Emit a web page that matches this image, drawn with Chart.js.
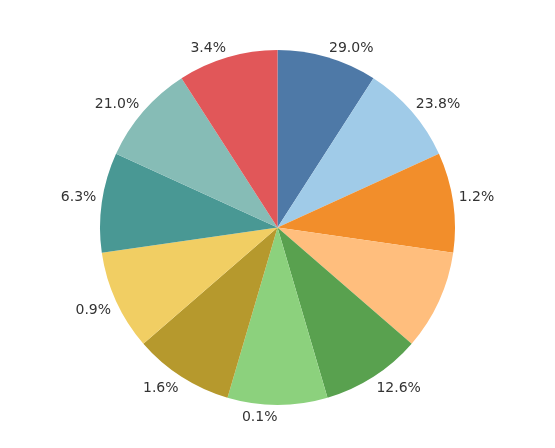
<!DOCTYPE html>
<html>
<head>
<meta charset="utf-8">
<script src="https://cdn.jsdelivr.net/npm/chart.js@4"></script>
<style>
html,body{margin:0;padding:0;background:#fff;}
#wrap{width:555px;height:448px;position:relative;}
</style>
</head>
<body>
<div id="wrap"><canvas id="c" width="555" height="448"></canvas></div>
<script>
const categories = ["A","B","C","D","E","F","G","H","I","J","K"];
const sliceValues = [1,1,1,1,1,1,1,1,1,1,1];
const sliceLabels = ["29.0%","23.8%","1.2%","","12.6%","0.1%","1.6%","0.9%","6.3%","21.0%","3.4%"];
const sliceColors = ["#4e79a7","#a0cbe8","#f28e2b","#ffbe7d","#59a14f","#8cd17d","#b6992d","#f1ce63","#499894","#86bcb6","#e15759"];

const labelPlugin = {
  id: 'outLabels',
  afterDatasetsDraw(chart) {
    const ctx = chart.ctx;
    const meta = chart.getDatasetMeta(0);
    ctx.save();
    ctx.font = '14px "DejaVu Sans", sans-serif';
    ctx.fillStyle = '#333333';
    meta.data.forEach((arc, i) => {
      const txt = sliceLabels[i];
      if (!txt) return;
      const p = arc.getProps(['x','y','startAngle','endAngle','outerRadius'], true);
      const mid = (p.startAngle + p.endAngle) / 2;
      const r = p.outerRadius + 5.5;
      const cx = Math.cos(mid), cy = Math.sin(mid);
      const x = p.x + cx * r;
      const y = p.y + cy * r;
      ctx.textAlign = cx > 0.001 ? 'left' : 'right';
      ctx.textBaseline = cy < 0 ? 'alphabetic' : 'top';
      ctx.fillText(txt, x, y);
    });
    ctx.restore();
  }
};

new Chart(document.getElementById('c'), {
  type: 'pie',
  data: {
    labels: categories,
    datasets: [{
      data: sliceValues,
      backgroundColor: sliceColors,
      borderWidth: 0
    }]
  },
  options: {
    responsive: false,
    animation: false,
    layout: { padding: { top: 50, bottom: 43, left: 0, right: 0 } },
    plugins: { legend: { display: false }, tooltip: { enabled: false } }
  },
  plugins: [labelPlugin]
});
</script>
</body>
</html>
